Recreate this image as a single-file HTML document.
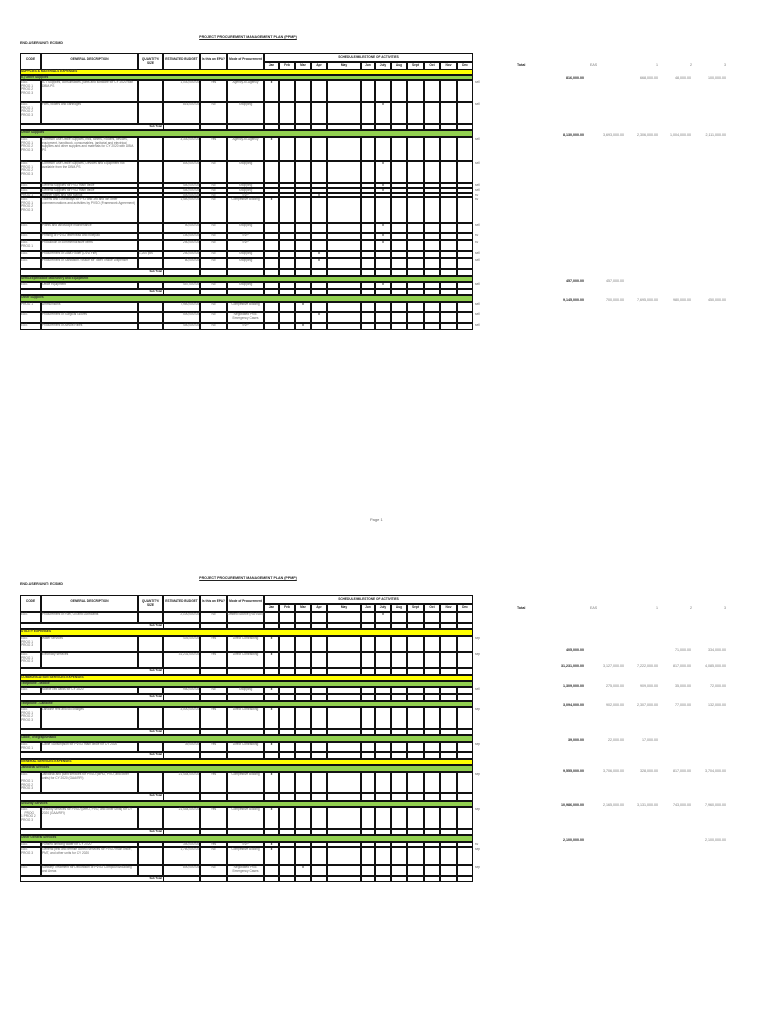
<!DOCTYPE html>
<html><head><meta charset="utf-8">
<style>
html,body{margin:0;padding:0;background:#fff;}
body{width:768px;height:1024px;position:relative;overflow:hidden;font-family:"Liberation Sans",sans-serif;color:#333;}
.a{position:absolute;box-sizing:border-box;}
.t{position:absolute;font-size:3.2px;line-height:3.6px;white-space:nowrap;color:#666;}
.b{font-weight:bold;color:#222;}
.cell{position:absolute;box-sizing:border-box;border:0.8px solid #111;}
.band{position:absolute;box-sizing:border-box;border:0.8px solid #111;}
.num{position:absolute;font-size:3.6px;white-space:nowrap;color:#777;text-align:right;}
</style></head>
<body>
<div id="root"></div>
<script>
const cols=[20,41,138,163,200,227,264,279,295,311,327,361,375,391,407,424,440,457,473];
const months=["Jan","Feb","Mar","Apr","May","Jun","July","Aug","Sept","Oct","Nov","Dec"];
const root=document.body;
function el(cls,x,y,w,h,txt,style){const d=document.createElement('div');d.className=cls;d.style.left=x+'px';d.style.top=y+'px';if(w!=null)d.style.width=w+'px';if(h!=null)d.style.height=h+'px';if(txt)d.textContent=txt;if(style)d.style.cssText+=style;root.appendChild(d);return d;}

function header(y){
  const h=17;
  const names=["CODE","GENERAL DESCRIPTION","QUANTITY/ SIZE","ESTIMATED BUDGET","Is this an EPA?","Mode of Procurement"];
  for(let i=0;i<6;i++){const c=el('cell',cols[i],y,cols[i+1]-cols[i],h);
    
    
    el('t b',cols[i],y+5,cols[i+1]-cols[i],null,names[i],'text-align:center;white-space:normal;');}
  const s=el('cell',264,y,209,9);
  
  
  el('t b',264,y+3,209,null,'SCHEDULE/MILESTONE OF ACTIVITIES','text-align:center;');
  for(let m=0;m<12;m++){const c=el('cell',cols[6+m],y+9,cols[7+m]-cols[6+m],8);
    
    
    el('t b',cols[6+m],y+11,cols[7+m]-cols[6+m],null,months[m],'text-align:center;');}
}
function band(y,h,color,label){
  const b=el('band',20,y,453,h,null,'background:'+color+';');
  
  
  el('t b',21,y+0.5,null,null,label,'color:#333;');
}
function row(y,h,code,desc,qty,budget,epa,mode,mark,side){
  for(let i=0;i<18;i++){const c=el('cell',cols[i],y,cols[i+1]-cols[i],h);
    
    }
  el('t',21,y+1,19,null,code,'white-space:pre;');
  el('t',42,y+1,95,null,desc,'white-space:normal;');
  if(qty)el('t',139,y+1,23,null,qty);
  el('t',163,y+1,36,null,budget,'text-align:right;');
  el('t',200,y+1,27,null,epa,'text-align:center;');
  el('t',227,y+1,37,null,mode,'text-align:center;white-space:normal;');
  if(mark!=null)el('t b',cols[6+mark],y+1,cols[7+mark]-cols[6+mark],null,'x','text-align:center;');
  if(side)el('t',475,y+1,null,null,side);
}
function sub(y,h){
  el('cell',20,y,143,h,null,'border-right:none;');
  for(let i=3;i<18;i++){const c=el('cell',cols[i],y,cols[i+1]-cols[i],h);
    
    }
  el('t b',139,y+1,23,null,'Sub Total','text-align:right;font-size:2.8px;');
}
function title(y){
  el('t b',20,y,456,null,'PROJECT PROCUREMENT MANAGEMENT PLAN (PPMP)','text-align:center;font-size:3.6px;text-decoration:underline;');
  el('t b',20,y+6,null,null,'END-USER/UNIT: ECSMD','font-size:3.6px;');
}
const P='EAS\nPROG 1\nPROG 2\nPROG 3';
/* ---------- page 1 ---------- */
title(36);header(53);
band(69,6,'#ffff00','SUPPLIES & MATERIALS EXPENSES');
band(75,5,'#92d050','a.) Other Supplies');
row(80,22,P,'ICT Supplies, consumables, parts and software for CY 2020 with DBM-PS','', '1,030,000.00','Yes','Agency-to-Agency',0,'sell');
row(102,22,P,'Files, folders and cartridges','', '816,000.00','No','Shopping',6,'sell');
sub(124,6);
band(130,7,'#92d050','Office Supplies');
row(137,24,P,'Common Use Office Supplies, inks, toners, Folders, devices, equipment, handbook, consumables, janitorial and electrical supplies and other supplies and materials for CY 2020 with DBM-PS','', '3,330,000.00','Yes','Agency-to-Agency',0,'sell');
row(161,22,P,'Common Use Office Supplies, Devices and Equipment not available from the DBM-PS','', '800,000.00','No','Shopping',6,'sell');
row(183,5,'EAS','General supplies for PSO main office','','450,000.00','No','Shopping',6,'sell');
row(188,5,'EAS','General supplies for PSO main office','','450,000.00','No','Shopping',6,'sell');
row(193,4,'PROG 1','Banner flags and flag stands','','500,000.00','No','SVP',3,'sv');
row(197,26,P,'Tokens and Giveaways for FY2 and 3rd and 4th other commemorations and activities by PVSO (Framework Agreement)','','1,450,000.00','No','Competitive Bidding',0,'sv');
row(223,10,'EAS','Plants and landscape maintenance','','50,000.00','No','Shopping',6,'sell');
row(233,7,'EAS','Printing of PVSO letterhead and notepad','','150,000.00','No','SVP',6,'sv');
row(240,11,'EAS\nPROG 1','Production of commemorative items','','250,000.00','No','SVP',6,'sv');
row(251,7,'EAS','Procurement of Data Folder (DVD File)','1,200 pcs','250,000.00','No','Shopping',3,'sell');
row(258,11,'EAS','Procurement of Sanitation / tissue for Toilet Tissue Dispenser','','80,000.00','No','Shopping',3,'sell');
sub(269,7);
band(276,6,'#92d050','Semi-Expendable Machinery and Equipment');
row(282,7,'EAS','Office equipment','','457,000.00','No','Shopping',6,'sell');
sub(289,6);
band(295,7,'#92d050','Other Supplies');
row(302,10,'PROG 1','Ammunitions','','7,950,000.00','No','Competitive Bidding',2,'sell');
row(312,11,'EAS','Procurement of Surgical Gloves','','500,000.00','No','Negotiated Proc. Emergency Cases',3,'sell');
row(323,7,'EAS','Procurement of Airsoft Rifles','','450,000.00','No','SVP',2,'sell');
el('t',370,518,30,null,'Page 1','font-size:4px;');
/* ---------- page 2 ---------- */
title(577);header(595);
row(612,11,'EAS','Procurement of Fuel, Oil and Lubricants','','2,100,000.00','No','Limited Source (RA 9184)',6,'');
sub(623,6);
band(629,7,'#ffff00','UTILITY EXPENSES');
row(636,16,'EAS\nPROG 1\nPROG 3','Water services','','405,000.00','Yes','Direct Contracting',0,'sep');
row(652,16,'EAS\nPROG 1\nPROG 3','Electricity services','','31,231,000.00','Yes','Direct Contracting',0,'sep');
sub(668,7);
band(675,6,'#ffff00','COMMUNICATION SERVICES EXPENSES');
band(681,6,'#92d050','Telephone - Mobile');
row(687,7,'EAS','Mobile cell cards for CY 2020','','950,000.00','No','Shopping',0,'sell');
sub(694,7);
band(701,6,'#92d050','Telephone - Landline');
row(707,22,P,'Landline rent and toll charges','','3,000,000.00','Yes','Direct Contracting',0,'sep');
sub(729,6);
band(735,7,'#92d050','Cable, Telegraph/Radio');
row(742,10,'EAS\nPROG 1','Cable Subscription for PVSO main office for CY 2020','','39,000.00','Yes','Direct Contracting',0,'sep');
sub(752,7);
band(759,6,'#ffff00','GENERAL SERVICES EXPENSES');
band(765,7,'#92d050','Janitorial Services');
row(772,21,'EAS\n\nPROG 1\nPROG 2\nPROG 3','Janitorial and plant services for PVSO (MHO, PVO, and other units) for CY 2020 (GAA/RFI)','','21,454,000.00','Yes','Competitive Bidding',0,'sep');
sub(793,8);
band(801,6,'#92d050','Security Services');
row(807,22,'EAS\n    PROG\n1 PROG 2\nPROG 3','Security services for PVSO (MHO, PVO, and other units) for CY 2020 (GAA/RFI)','','21,454,000.00','Yes','Competitive Bidding',0,'sep');
sub(829,6);
band(835,7,'#92d050','Other General Services');
row(842,5,'EAS','Purified drinking water for CY 2020','','350,000.00','Yes','SVP',0,'sv');
row(847,18,'EAS\nPROG 3','General pest and termite control services for PVSO main office, PMT, and other units for CY 2020','','1,750,000.00','No','Competitive Bidding',0,'sep');
row(865,11,'EAS','Sanitary Treatment for Decoration of PVSO Compound/Building and Areas','','800,000.00','No','Negotiated Proc. Emergency Cases',2,'sep');
sub(876,6);
</script>
<script>
/* right-side summary columns */
const headers=["Total","EAS","1","2","3"];
const totals1=["816,000.00","8,130,000.00","457,000.00","9,145,000.00"];
const eas1=["","3,693,000.00","457,000.00","700,000.00"];
const c1_1=["668,000.00","2,306,000.00","","7,695,000.00"];
const c2_1=["48,000.00","1,004,000.00","","980,000.00"];
const c3_1=["100,000.00","2,111,000.00","","450,000.00"];
const totals2=["405,000.00","31,231,000.00","1,309,000.00","3,094,000.00","39,000.00","9,555,000.00","10,986,000.00","2,100,000.00"];
const eas2=["","3,127,000.00","275,000.00","902,000.00","22,000.00","3,706,000.00","2,165,000.00",""];
const c1_2=["","7,222,000.00","909,000.00","2,307,000.00","17,000.00","328,000.00","3,131,000.00",""];
const c2_2=["71,000.00","817,000.00","35,000.00","77,000.00","","817,000.00","743,000.00",""];
const c3_2=["334,000.00","4,085,000.00","72,000.00","132,000.00","","3,704,000.00","7,960,000.00","2,100,000.00"];
const rows1Y=[76,133,279,298];
const rows2Y=[648,664,684,703,738,769,803,838];
const rights=[584,624,658,691,726];
function hdr(y){
  const positions=[517,590,656,690,724];
  headers.forEach((h,i)=>{const d=document.createElement('div');d.className='num';
    d.style.left=positions[i]+'px';d.style.top=y+'px';d.textContent=h;
    if(i==0){d.style.fontWeight='bold';d.style.color='#222';}
    
    
    document.body.appendChild(d);});
}
function vals(ys,arrs){
  ys.forEach((y,r)=>{arrs.forEach((a,i)=>{if(!a[r])return;
    const d=document.createElement('div');d.className='num';
    d.style.left=(rights[i]-40)+'px';d.style.width='40px';d.style.top=y+'px';d.textContent=a[r];
    if(i==0){d.style.fontWeight='bold';d.style.color='#222';}
    
    
    document.body.appendChild(d);});});
}
hdr(63);vals(rows1Y,[totals1,eas1,c1_1,c2_1,c3_1]);
hdr(606);vals(rows2Y,[totals2,eas2,c1_2,c2_2,c3_2]);
</script>
</body></html>
